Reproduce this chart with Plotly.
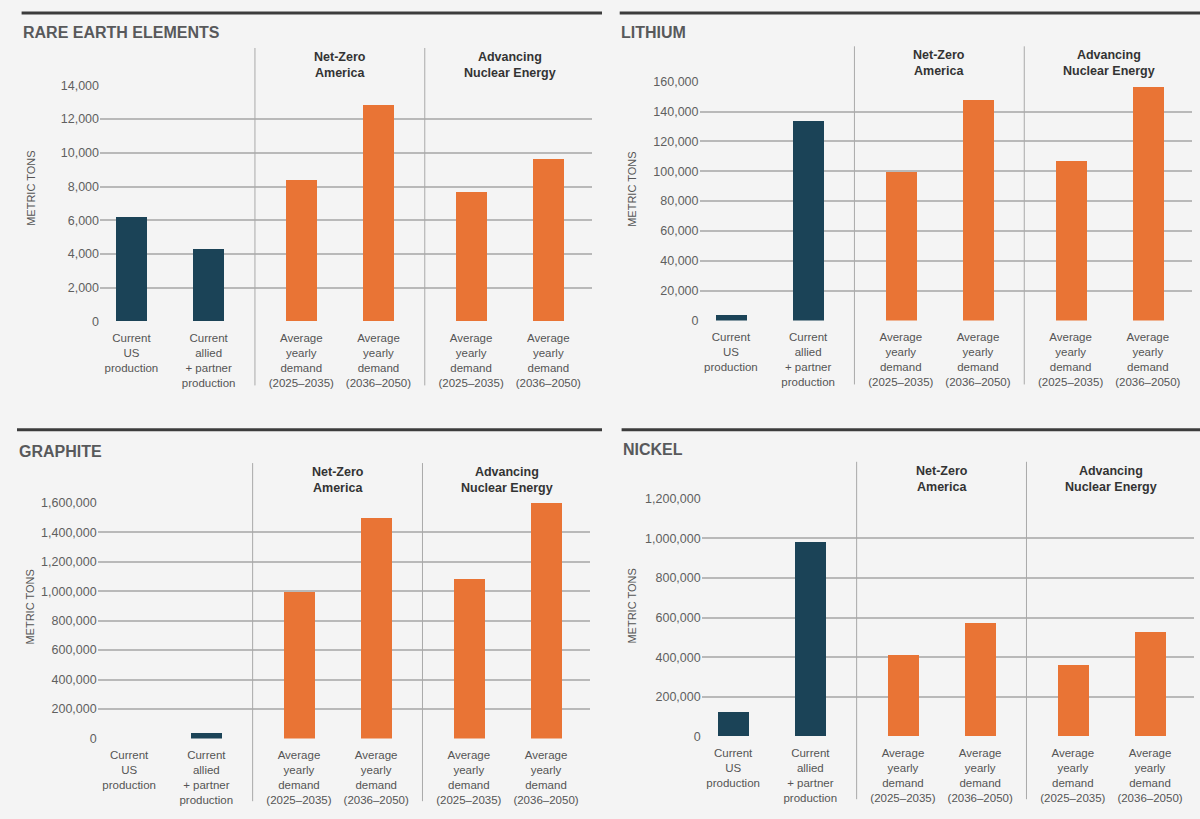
import plotly.graph_objects as go

# ---------------- data ----------------
CATEGORIES = [
    "Current<br>US<br>production",
    "Current<br>allied<br>+ partner<br>production",
    "Average<br>yearly<br>demand<br>(2025–2035)",
    "Average<br>yearly<br>demand<br>(2036–2050)",
    "Average<br>yearly<br>demand<br>(2025–2035)",
    "Average<br>yearly<br>demand<br>(2036–2050)",
]
CATEGORY_GROUP = [0, 0, 1, 1, 2, 2]
GROUP_HEADERS = ["", "Net-Zero<br>America", "Advancing<br>Nuclear Energy"]

PANEL_TITLES = ["RARE EARTH ELEMENTS", "LITHIUM", "GRAPHITE", "NICKEL"]
RARE_EARTH = [6200, 4300, 8350, 12800, 7650, 9600]
LITHIUM = [3750, 134000, 100000, 148000, 107000, 156500]
GRAPHITE = [0, 40000, 995000, 1495000, 1087000, 1600000]
NICKEL = [120000, 980000, 411000, 572000, 358000, 526000]
PANEL_VALUES = [RARE_EARTH, LITHIUM, GRAPHITE, NICKEL]
Y_MAX = [14000, 160000, 1600000, 1200000]
Y_STEP = [2000, 20000, 200000, 200000]
Y_TITLE = "METRIC TONS"

# ---------------- style / layout ----------------
W, H = 1200, 819
BG = "#f4f4f4"
NAVY = "#1b4357"
ORANGE = "#e97435"
GRID = "#b9b9b9"
SEP = "#a9a9a9"
GROUP_COLORS = [NAVY, ORANGE, ORANGE]
GAP = 0.2  # extra spacing between groups (in category units)
BAR_W = 0.40
X_RANGE = [-0.407, 5.966]
PLOT_W = 492

SANS = "Liberation Sans, Arial, sans-serif"

# pixel geometry of each panel
PANELS = [
    dict(left=100, bottom=320, top=79.7, line_y=6, line_x0=21.6, line_x1=602, title_x=21, title_y=26,
         header_y=59.2, sep_top=41.7, sep_bottom=385, ylab_x=31, ylab_y=185),
    dict(left=699.5, bottom=319, top=76, line_y=6, line_x0=619.7, line_x1=1200, title_x=619, title_y=25.5,
         header_y=57, sep_top=40, sep_bottom=384, ylab_x=632, ylab_y=185),
    dict(left=97.7, bottom=744.3, top=504.3, line_y=430, line_x0=17, line_x1=602, title_x=16.5, title_y=452,
         header_y=481.5, sep_top=464, sep_bottom=808, ylab_x=30, ylab_y=611),
    dict(left=701.7, bottom=742.3, top=500, line_y=430, line_x0=621.6, line_x1=1200, title_x=621, title_y=450.5,
         header_y=479.8, sep_top=462.7, sep_bottom=806, ylab_x=632, ylab_y=609),
]


def px(x):
    return x / W


def py(y):
    return 1 - y / H


positions = [i + GAP * g for i, g in enumerate(CATEGORY_GROUP)]
bar_colors = [GROUP_COLORS[g] for g in CATEGORY_GROUP]

fig = go.Figure()
shapes = []
annotations = []

for k, (title, values) in enumerate(zip(PANEL_TITLES, PANEL_VALUES)):
    p = PANELS[k]
    n = "" if k == 0 else str(k + 1)
    xa, ya = "x" + n, "y" + n
    fig.add_trace(go.Bar(
        x=positions, y=values, width=BAR_W, marker=dict(color=bar_colors, line=dict(width=0)),
        xaxis=xa, yaxis=ya, hoverinfo="skip", showlegend=False,
    ))
    fig.layout["xaxis" + n] = dict(
        domain=[px(p["left"]), px(p["left"] + PLOT_W)], anchor=ya, range=X_RANGE,
        tickvals=positions, ticktext=CATEGORIES, showgrid=False, zeroline=False, showline=False,
        ticks="", ticklabelstandoff=8, tickfont=dict(family=SANS, size=11.5, color="#555555"),
        fixedrange=True,
    )
    fig.layout["yaxis" + n] = dict(
        domain=[py(p["bottom"]), py(p["top"])], anchor=xa, range=[0, Y_MAX[k]], dtick=Y_STEP[k],
        tickformat=",", showgrid=True, gridcolor=GRID, gridwidth=1.5, zeroline=False, showline=False,
        ticks="", tickfont=dict(family=SANS, size=12.5, color="#5f5f5f"), fixedrange=True,
    )
    # heavy rule above the panel
    shapes.append(dict(type="line", xref="paper", yref="paper", x0=px(p["line_x0"]), x1=px(p["line_x1"]),
                       y0=py(p["line_y"]), y1=py(p["line_y"]), line=dict(color="#3c3c3c", width=3)))
    # group separators
    for g in range(1, len(GROUP_HEADERS)):
        prev_last = max(pos for pos, gg in zip(positions, CATEGORY_GROUP) if gg == g - 1)
        first = min(pos for pos, gg in zip(positions, CATEGORY_GROUP) if gg == g)
        xs = (prev_last + first) / 2
        shapes.append(dict(type="line", xref=xa, yref="paper", x0=xs, x1=xs,
                           y0=py(p["sep_bottom"]), y1=py(p["sep_top"]), line=dict(color=SEP, width=1)))
    # group headers
    for g, header in enumerate(GROUP_HEADERS):
        if not header:
            continue
        gp = [pos for pos, gg in zip(positions, CATEGORY_GROUP) if gg == g]
        annotations.append(dict(text="<b>" + header + "</b>", xref=xa, yref="paper", x=sum(gp) / len(gp),
                                y=py(p["header_y"]), xanchor="center", yanchor="middle", showarrow=False,
                                font=dict(family=SANS, size=12.5, color="#333333")))
    # panel title
    annotations.append(dict(text="<b>" + title + "</b>", xref="paper", yref="paper", x=px(p["title_x"]),
                            y=py(p["title_y"]), xanchor="left", yanchor="middle", showarrow=False,
                            font=dict(family=SANS, size=16, color="#58595b")))
    # y axis title
    annotations.append(dict(text=Y_TITLE, xref="paper", yref="paper", x=px(p["ylab_x"]), y=py(p["ylab_y"]),
                            xanchor="center", yanchor="middle", textangle=-90, showarrow=False,
                            font=dict(family=SANS, size=11, color="#555555")))

fig.update_layout(
    width=W, height=H, autosize=False, margin=dict(l=0, r=0, t=0, b=0, pad=0),
    paper_bgcolor=BG, plot_bgcolor=BG, showlegend=False, bargap=0,
    shapes=shapes, annotations=annotations,
)

PAGE_FIX = (
    "document.documentElement.style.margin='0';"
    "document.body.style.margin='0';document.body.style.padding='0';"
    "document.body.style.overflow='hidden';document.body.style.background='#f4f4f4';"
    "var gd=document.querySelector('.plotly-graph-div');"
    "gd.style.position='fixed';gd.style.left='0px';gd.style.top='0px';"
)

fig.write_html("out.html", config={"displayModeBar": False}, post_script=PAGE_FIX)
